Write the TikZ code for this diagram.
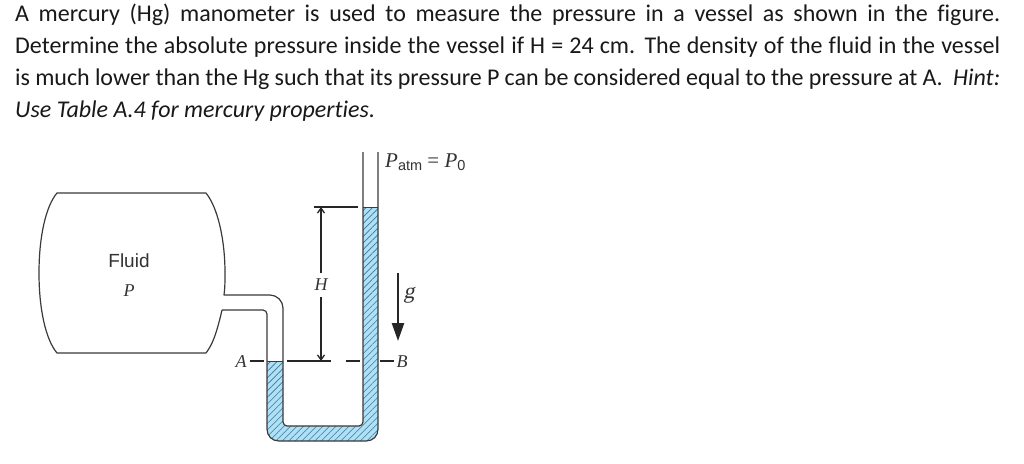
\documentclass[tikz,border=0pt]{standalone}
\usepackage{fontspec}
\setmainfont{Carlito}[Ligatures=NoCommon]
\newfontfamily\arialf{Liberation Sans}
\newfontfamily\timesf{Liberation Serif}
\newfontfamily\slantf{Liberation Serif}[FakeSlant=0.2]
\usetikzlibrary{patterns.meta,arrows.meta}
\definecolor{hgblue}{HTML}{AEE0F7}
\definecolor{wall}{HTML}{3A3A3A}
\definecolor{hatch}{HTML}{42768C}
\def\hgpath{(267,361) -- (267,429) .. controls (267,436) and (272,441) .. (279,441) -- (366,441) .. controls (373,441) and (378,436) .. (378,429) -- (378,207) -- (363,207) -- (363,422) .. controls (363,424) and (361,426) .. (359,426) -- (287,426) .. controls (285,426) and (283,424) .. (283,422) -- (283,361) -- cycle}
\tikzset{
  wallline/.style={draw=wall,line width=1.2pt,line join=round},
  dimline/.style={draw=black!85,line width=1.3pt},
  dimarrow/.style={draw=black!85,line width=1.3pt,-{Straight Barb[length=5pt,width=7pt]}},
  figlabel/.style={inner sep=0pt,font=\timesf\itshape\fontsize{18}{20}\selectfont,text=black!80},
  para/.style={inner sep=0pt,anchor=north west,text width=985pt,align=justify,font=\fontsize{24}{32}\selectfont,text=black!90}
}
\begin{document}
\begin{tikzpicture}[x=1pt,y=-1pt]
\useasboundingbox (0,0) rectangle (1024,463);
\fill[white] (0,0) rectangle (1024,463);
\node[para] (problem) at (15,4) {A mercury (Hg) manometer is used to measure the pressure in a vessel as shown in the figure.\linebreak
Determine the absolute pressure inside the vessel if H = 24 cm. The density of the fluid in the vessel\linebreak
is much lower than the Hg such that its pressure P can be considered equal to the pressure at A. \ \textit{Hint:}\linebreak
\textit{Use Table A.4 for mercury properties.}\par};
% mercury
\path[fill=hgblue] \hgpath;
\path[pattern={Lines[angle=45,distance=4.6pt,line width=.6pt]},pattern color=hatch] \hgpath;
% vessel and tube
\draw[wallline] (222,310) .. controls (216,336) and (212,345) .. (206,353) -- (57,353) .. controls (46,340) and (39,310) .. (39,273) .. controls (39,236) and (46,206) .. (57,193) -- (206,193) .. controls (218,208) and (225,240) .. (225,273) .. controls (225,281) and (225,288) .. (224,295) -- (270,295) .. controls (277,295) and (283,301) .. (283,308) -- (283,422) .. controls (283,424) and (285,426) .. (287,426) -- (359,426) .. controls (361,426) and (363,424) .. (363,422) -- (363,152);
\draw[wallline] (222,310) -- (263,310) .. controls (265,310) and (267,312) .. (267,314) -- (267,429) .. controls (267,436) and (272,441) .. (279,441) -- (366,441) .. controls (373,441) and (378,436) .. (378,429) -- (378,152);
\draw[wall,line width=.9pt] (267,361) -- (283,361) (363,207) -- (378,207);
% labels
\node[inner sep=0pt,font=\arialf\fontsize{19}{22}\selectfont,text=black!80] (fluid) at (129,261) {Fluid};
\node[figlabel] (pressure) at (129,291) {P};
\node[figlabel] (labA) at (241,362) {A};
\node[figlabel] (labB) at (402,362) {B};
\node[figlabel] (labH) at (321,285) {H};
\node[inner sep=0pt,text=black!80,font=\slantf\fontsize{22}{24}\selectfont] (labg) at (409,295) {g};
\node[inner sep=0pt,anchor=base west,text=black!80,font=\timesf\fontsize{21}{22}\selectfont] (patm) at (385,167) {\textit{P}\raisebox{-3pt}{\arialf\fontsize{14.5}{16}\selectfont atm} = \textit{P}\raisebox{-3pt}{\arialf\fontsize{14.5}{16}\selectfont 0}};
% level lines
\coordinate (topL) at (314,207); \coordinate (topR) at (358,207);
\coordinate (topArrowEnd) at (321,207); \coordinate (topArrowStart) at (321,273);
\coordinate (botArrowStart) at (321,297); \coordinate (botArrowEnd) at (321,361);
\draw[dimline] (topL) -- (topR);
\draw[dimarrow] (topArrowStart) -- (topArrowEnd);
\draw[dimarrow] (botArrowStart) -- (botArrowEnd);
\coordinate (a1) at (250,361); \coordinate (a2) at (264,361);
\coordinate (b1) at (287,361); \coordinate (b2) at (331,361);
\coordinate (c1) at (346,361); \coordinate (c2) at (360,361);
\coordinate (d1) at (380,361); \coordinate (d2) at (394,361);
\draw[dimline] (a1) -- (a2) (b1) -- (b2) (c1) -- (c2) (d1) -- (d2);
% gravity
\coordinate (g1) at (398,273); \coordinate (g2) at (398,341);
\draw[line width=2.4pt,black!85,-{Triangle[length=18pt,width=12pt]}] (g1) -- (g2);
\end{tikzpicture}
\end{document}
